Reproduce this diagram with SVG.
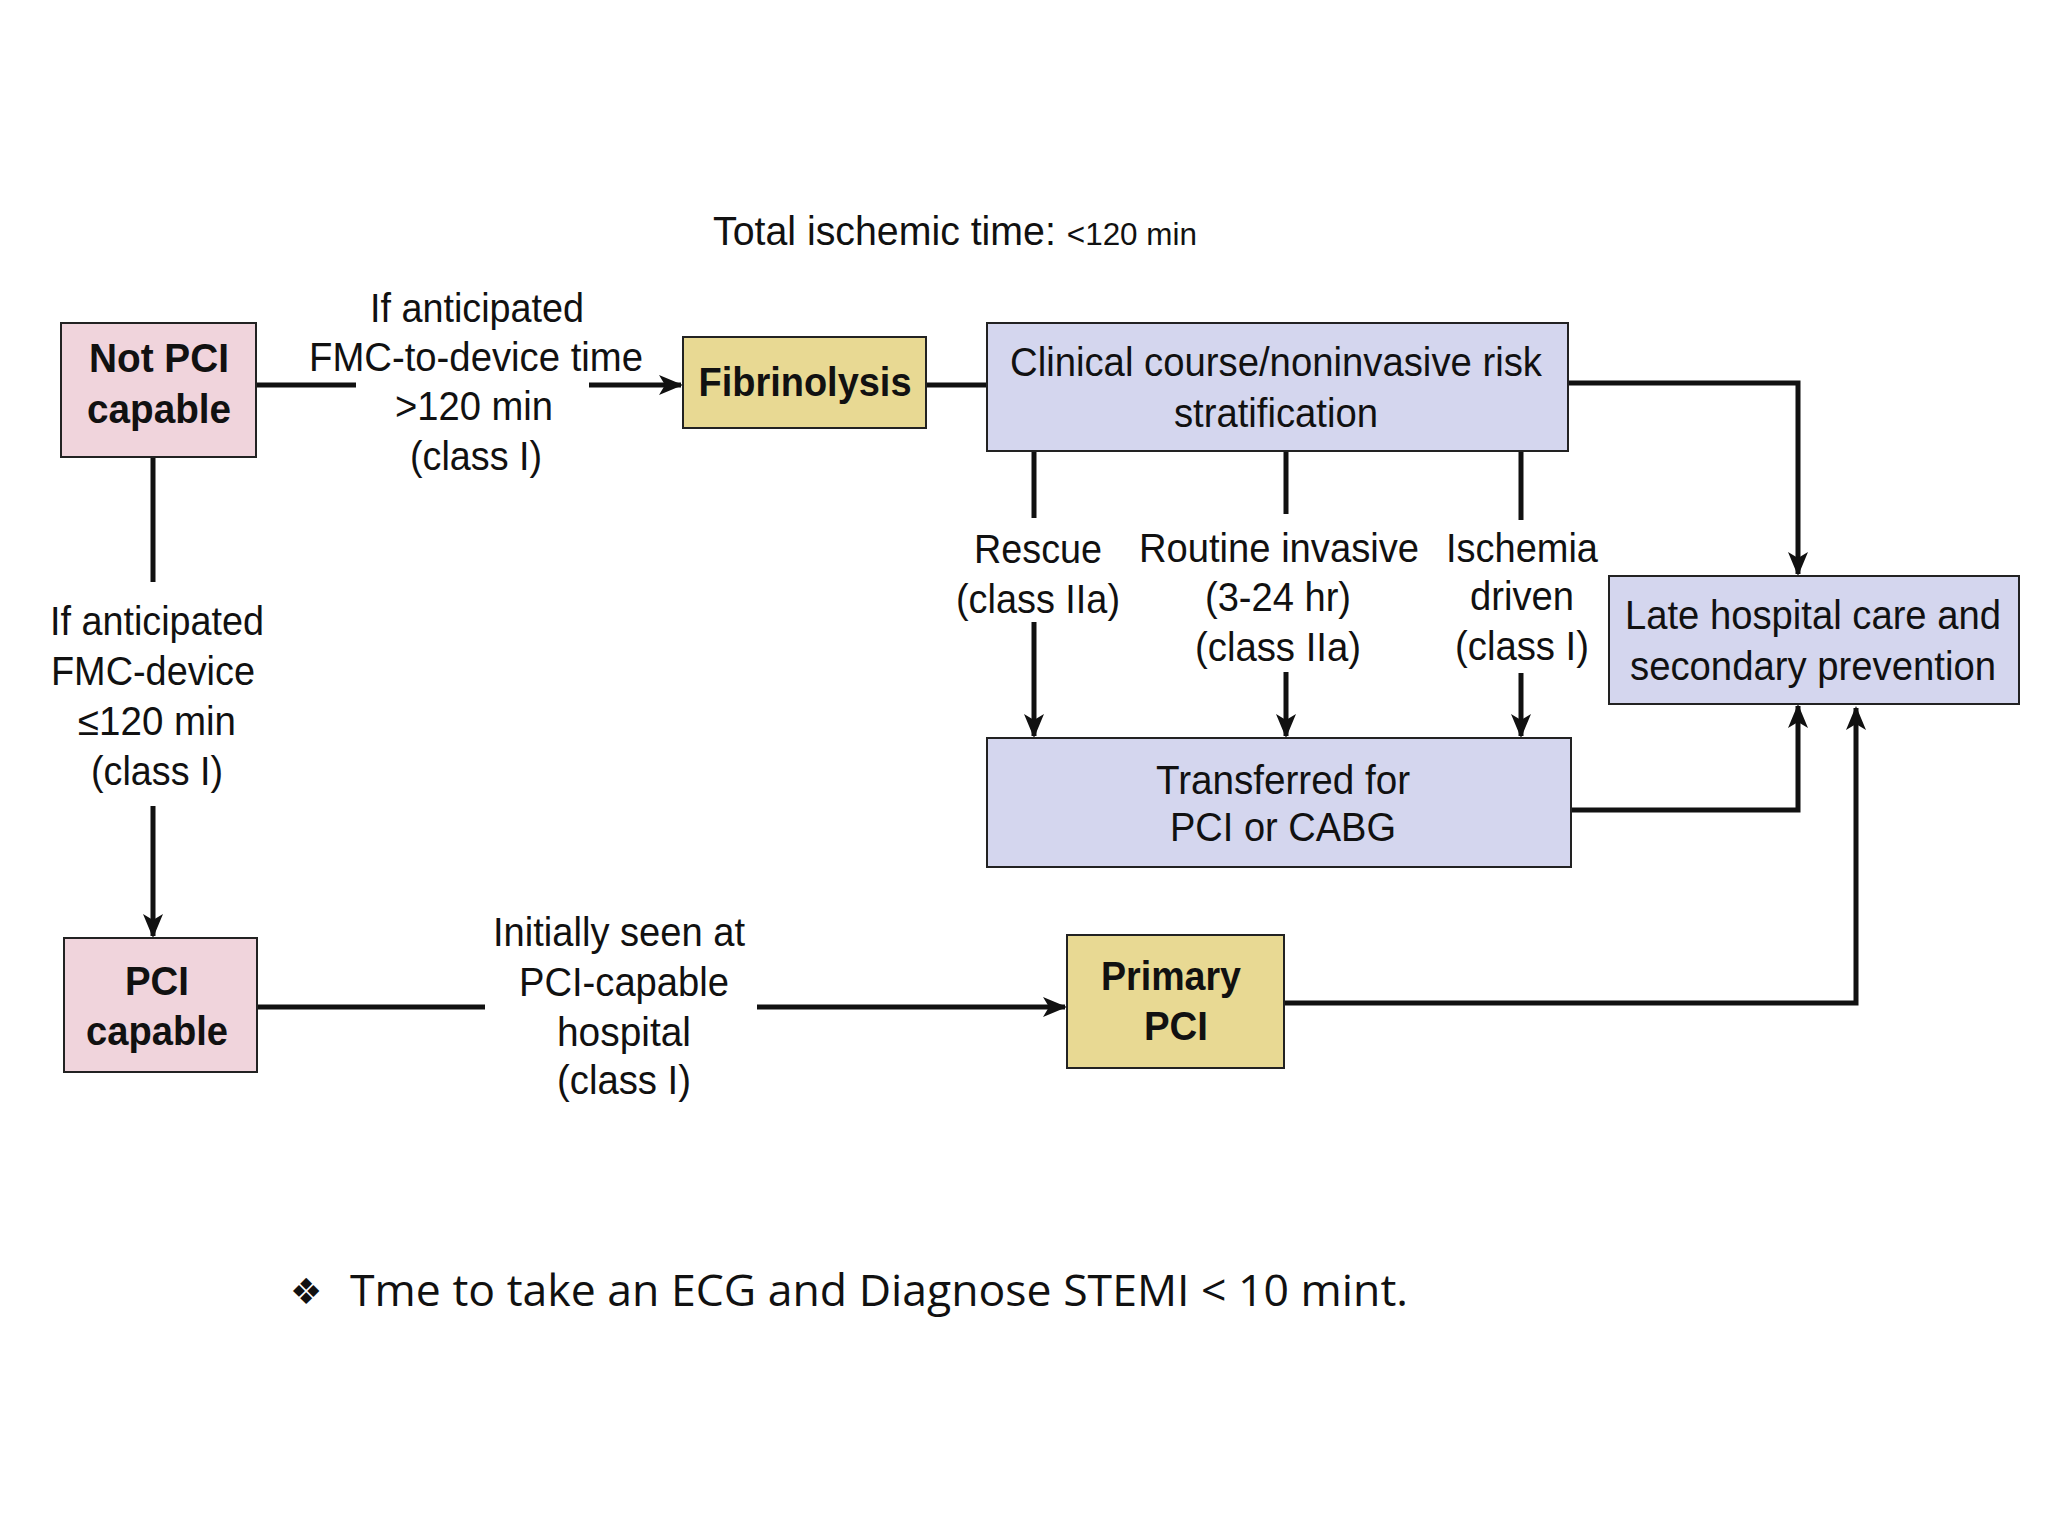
<svg xmlns="http://www.w3.org/2000/svg" width="2048" height="1536" viewBox="0 0 2048 1536">
<style>
text{font-family:"Liberation Sans",Arial,sans-serif;font-size:40px;fill:#111;text-anchor:middle}
.b{font-weight:bold}
.box{stroke:#222;stroke-width:2}
.pink{fill:#f0d4dc}.yel{fill:#e8d993}.lav{fill:#d4d6ee}
.c line,.c polyline{stroke:#111;stroke-width:5;fill:none}
</style>
<defs><marker id="a" markerWidth="8" markerHeight="8" refX="7" refY="4" orient="auto" markerUnits="userSpaceOnUse" viewBox="0 0 8 8"><path d="M0,0L8,4L0,8L2,4Z" fill="#111"/></marker>
<marker id="ah" markerWidth="24" markerHeight="20" refX="22" refY="10" orient="auto" markerUnits="userSpaceOnUse"><path d="M0,0L24,10L0,20L6,10Z" fill="#111"/></marker></defs>
<rect width="2048" height="1536" fill="#fff"/>
<text x="955" y="245" textLength="484" lengthAdjust="spacingAndGlyphs">Total ischemic time: <tspan font-size="32">&lt;120 min</tspan></text>
<g class="c">
<line x1="256" y1="385" x2="356" y2="385"/>
<line x1="589" y1="385" x2="681" y2="385" marker-end="url(#ah)"/>
<line x1="926" y1="385" x2="987" y2="385"/>
<polyline points="1568,383 1798,383 1798,574" marker-end="url(#ah)"/>
<line x1="1034" y1="451" x2="1034" y2="518"/>
<line x1="1034" y1="622" x2="1034" y2="736" marker-end="url(#ah)"/>
<line x1="1286" y1="451" x2="1286" y2="514"/>
<line x1="1286" y1="672" x2="1286" y2="736" marker-end="url(#ah)"/>
<line x1="1521" y1="451" x2="1521" y2="520"/>
<line x1="1521" y1="673" x2="1521" y2="736" marker-end="url(#ah)"/>
<polyline points="1571,810 1798,810 1798,706" marker-end="url(#ah)"/>
<polyline points="1284,1003 1856,1003 1856,708" marker-end="url(#ah)"/>
<line x1="153" y1="457" x2="153" y2="582"/>
<line x1="153" y1="806" x2="153" y2="936" marker-end="url(#ah)"/>
<line x1="257" y1="1007" x2="485" y2="1007"/>
<line x1="757" y1="1007" x2="1065" y2="1007" marker-end="url(#ah)"/>
</g>
<g id="notpci"><rect class="box pink" x="61" y="323" width="195" height="134"/><text class="b" x="159" y="372" textLength="140" lengthAdjust="spacingAndGlyphs">Not PCI</text><text class="b" x="159" y="423" textLength="144" lengthAdjust="spacingAndGlyphs">capable</text></g>
<g id="fib"><rect class="box yel" x="683" y="337" width="243" height="91"/><text class="b" x="805" y="396" textLength="213" lengthAdjust="spacingAndGlyphs">Fibrinolysis</text></g>
<g id="clin"><rect class="box lav" x="987" y="323" width="581" height="128"/><text x="1276" y="376" textLength="532" lengthAdjust="spacingAndGlyphs">Clinical course/noninvasive risk</text><text x="1276" y="427" textLength="204" lengthAdjust="spacingAndGlyphs">stratification</text></g>
<g id="late"><rect class="box lav" x="1609" y="576" width="410" height="128"/><text x="1813" y="629" textLength="376" lengthAdjust="spacingAndGlyphs">Late hospital care and</text><text x="1813" y="680" textLength="366" lengthAdjust="spacingAndGlyphs">secondary prevention</text></g>
<g id="trans"><rect class="box lav" x="987" y="738" width="584" height="129"/><text x="1283" y="794" textLength="254" lengthAdjust="spacingAndGlyphs">Transferred for</text><text x="1283" y="841" textLength="226" lengthAdjust="spacingAndGlyphs">PCI or CABG</text></g>
<g id="pcicap"><rect class="box pink" x="64" y="938" width="193" height="134"/><text class="b" x="157" y="995" textLength="64" lengthAdjust="spacingAndGlyphs">PCI</text><text class="b" x="157" y="1045" textLength="142" lengthAdjust="spacingAndGlyphs">capable</text></g>
<g id="primary"><rect class="box yel" x="1067" y="935" width="217" height="133"/><text class="b" x="1171" y="990" textLength="140" lengthAdjust="spacingAndGlyphs">Primary</text><text class="b" x="1176" y="1040" textLength="64" lengthAdjust="spacingAndGlyphs">PCI</text></g>
<g id="labels">
<text x="477" y="322" textLength="214" lengthAdjust="spacingAndGlyphs">If anticipated</text>
<text x="476" y="371" textLength="334" lengthAdjust="spacingAndGlyphs">FMC-to-device time</text>
<text x="474" y="420" textLength="158" lengthAdjust="spacingAndGlyphs">&gt;120 min</text>
<text x="476" y="470" textLength="132" lengthAdjust="spacingAndGlyphs">(class I)</text>
<text x="157" y="635" textLength="214" lengthAdjust="spacingAndGlyphs">If anticipated</text>
<text x="153" y="685" textLength="204" lengthAdjust="spacingAndGlyphs">FMC-device</text>
<text x="157" y="735" textLength="158" lengthAdjust="spacingAndGlyphs">≤120 min</text>
<text x="157" y="785" textLength="132" lengthAdjust="spacingAndGlyphs">(class I)</text>
<text x="1038" y="563" textLength="128" lengthAdjust="spacingAndGlyphs">Rescue</text>
<text x="1038" y="613" textLength="164" lengthAdjust="spacingAndGlyphs">(class IIa)</text>
<text x="1279" y="562" textLength="280" lengthAdjust="spacingAndGlyphs">Routine invasive</text>
<text x="1278" y="611" textLength="146" lengthAdjust="spacingAndGlyphs">(3-24 hr)</text>
<text x="1278" y="661" textLength="166" lengthAdjust="spacingAndGlyphs">(class IIa)</text>
<text x="1522" y="562" textLength="152" lengthAdjust="spacingAndGlyphs">Ischemia</text>
<text x="1522" y="610" textLength="104" lengthAdjust="spacingAndGlyphs">driven</text>
<text x="1522" y="660" textLength="134" lengthAdjust="spacingAndGlyphs">(class I)</text>
<text x="619" y="946" textLength="252" lengthAdjust="spacingAndGlyphs">Initially seen at</text>
<text x="624" y="996" textLength="210" lengthAdjust="spacingAndGlyphs">PCI-capable</text>
<text x="624" y="1046" textLength="134" lengthAdjust="spacingAndGlyphs">hospital</text>
<text x="624" y="1094" textLength="134" lengthAdjust="spacingAndGlyphs">(class I)</text>
</g>
<text x="290" y="1304" style="font-family:'Open Sans','DejaVu Sans',sans-serif;font-size:36px;text-anchor:start">❖</text>
<text x="350" y="1306" textLength="1058" lengthAdjust="spacingAndGlyphs" style="font-family:'Open Sans','Liberation Sans',sans-serif;font-size:44px;text-anchor:start">Tme to take an ECG and Diagnose STEMI &lt; 10 mint.</text>
</svg>
